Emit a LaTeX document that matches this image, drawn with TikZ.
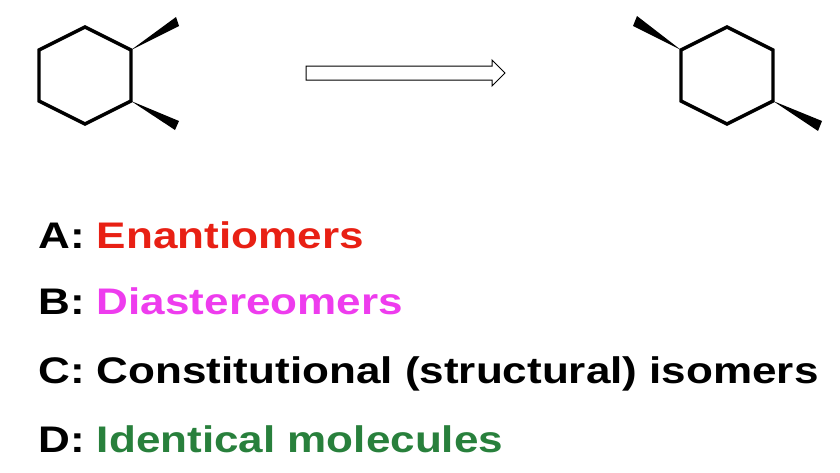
\documentclass[tikz,border=0pt]{standalone}
\usepackage{fontspec}
\setmainfont{Liberation Sans}
\definecolor{cred}{RGB}{232,32,20}
\definecolor{cmag}{RGB}{238,60,238}
\definecolor{cgrn}{RGB}{40,128,60}
\begin{document}
\begin{tikzpicture}[x=1pt,y=-1pt,
  bond/.style={line width=3.4pt,line join=miter},
  wedge/.style={fill=black},
  lbl/.style={anchor=base west,inner sep=0pt,xscale=1.19,transform shape,font=\fontsize{37}{40}\selectfont\bfseries}]
\useasboundingbox (0,0) rectangle (840,472);
% left molecule
\coordinate (a1) at (85,27); \coordinate (a2) at (131,50); \coordinate (a3) at (131,101);
\coordinate (a4) at (85,124); \coordinate (a5) at (39,101); \coordinate (a6) at (39,50);
\draw[bond] (a1)--(a2)--(a3)--(a4)--(a5)--(a6)--cycle;
\fill[wedge] (a2) -- (176,17) -- (179,26) -- cycle;
\fill[wedge] (a3) -- (179,121) -- (175,130) -- cycle;
% arrow
\draw[line width=1pt,fill=white] (306,66) -- (492,66) -- (492,60) -- (505,73) -- (492,86) -- (492,80) -- (306,80) -- cycle;
% right molecule
\coordinate (b1) at (727,27); \coordinate (b2) at (773,50); \coordinate (b3) at (773,101);
\coordinate (b4) at (727,124); \coordinate (b5) at (681,101); \coordinate (b6) at (681,50);
\draw[bond] (b1)--(b2)--(b3)--(b4)--(b5)--(b6)--cycle;
\fill[wedge] (b6) -- (633,26) -- (637,16) -- cycle;
\fill[wedge] (b3) -- (822,121) -- (818,131) -- cycle;
% labels
\node[lbl] (la) at (38,248) {A: \textcolor{cred}{Enantiomers}};
\node[lbl] (lb) at (38,314) {B: \textcolor{cmag}{Diastereomers}};
\node[lbl] (lc) at (38,383) {C: Constitutional (structural) isomers};
\node[lbl] (ld) at (38,452) {D: \textcolor{cgrn}{Identical molecules}};
\end{tikzpicture}
\end{document}
